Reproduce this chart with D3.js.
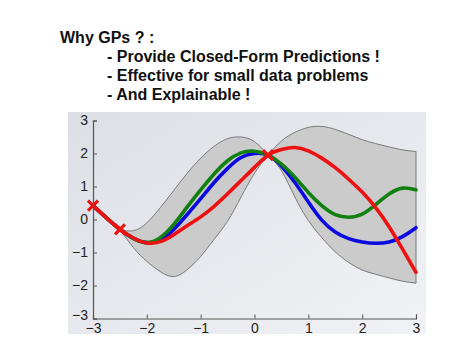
<!DOCTYPE html>
<html>
<head>
<meta charset="utf-8">
<script src="https://cdn.jsdelivr.net/npm/d3@7"></script>
<style>
  html, body { margin: 0; padding: 0; background: #ffffff; }
  svg { display: block; }
</style>
</head>
<body>
<script>
// ---- data ----
const titleLines = ["Why GPs ? :", "- Provide Closed-Form Predictions !", "- Effective for small data problems", "- And Explainable !"];
const xs =    [-3, -2.75, -2.5, -2.25, -2, -1.75, -1.5, -1.25, -1, -0.75, -0.5, -0.25, 0, 0.25, 0.5, 0.75, 1, 1.25, 1.5, 1.75, 2, 2.25, 2.5, 2.75, 3];
const upper = [0.42, 0.05, -0.30, -0.34, -0.10, 0.36, 0.88, 1.40, 1.86, 2.22, 2.45, 2.50, 2.36, 1.95, 2.38, 2.64, 2.79, 2.82, 2.73, 2.58, 2.42, 2.30, 2.20, 2.11, 2.06];
const lower = [0.42, 0.05, -0.30, -0.85, -1.27, -1.58, -1.73, -1.52, -1.12, -0.60, -0.05, 0.68, 1.40, 1.95, 1.48, 0.68, -0.03, -0.55, -0.98, -1.30, -1.53, -1.66, -1.77, -1.87, -1.93];
const blue =  [0.42, 0.05, -0.30, -0.57, -0.70, -0.62, -0.30, 0.15, 0.63, 1.12, 1.55, 1.88, 2.00, 1.95, 1.62, 1.12, 0.53, -0.02, -0.38, -0.58, -0.68, -0.72, -0.68, -0.52, -0.25];
const green = [0.42, 0.05, -0.30, -0.57, -0.70, -0.55, -0.15, 0.38, 0.90, 1.38, 1.78, 2.02, 2.07, 1.95, 1.68, 1.28, 0.82, 0.42, 0.15, 0.07, 0.16, 0.45, 0.77, 0.95, 0.90];
const red =   [0.42, 0.05, -0.30, -0.56, -0.71, -0.67, -0.46, -0.19, 0.08, 0.40, 0.78, 1.18, 1.58, 1.95, 2.12, 2.18, 2.08, 1.86, 1.57, 1.22, 0.83, 0.36, -0.22, -0.90, -1.60];
const obsX = [-3, -2.5, 0.25];
const obsY = [0.42, -0.30, 1.95];
const ticks = [-3, -2, -1, 0, 1, 2, 3];

// ---- layout ----
const W = 474, H = 355;
const svg = d3.select("body").append("svg").attr("width", W).attr("height", H);

const font = "'Liberation Sans', Arial, Helvetica, sans-serif";
const titleX = [60, 107, 107, 107];
const titleY = [42.5, 61.5, 80.5, 99.5];
svg.selectAll("text.title").data(titleLines).enter().append("text")
  .attr("class", "title")
  .attr("x", (d, i) => titleX[i]).attr("y", (d, i) => titleY[i])
  .attr("font-family", font).attr("font-weight", "bold").attr("font-size", 16)
  .attr("fill", "#111").text(d => d);

// panel background
const defs = svg.append("defs");
const grad = defs.append("linearGradient").attr("id", "bg").attr("x1", "0").attr("y1", "0").attr("x2", "1").attr("y2", "1");
grad.append("stop").attr("offset", "0%").attr("stop-color", "#dcdfe5");
grad.append("stop").attr("offset", "100%").attr("stop-color", "#f1f2f6");
svg.append("rect").attr("x", 68).attr("y", 112).attr("width", 358).attr("height", 222).attr("fill", "url(#bg)");

const x = d3.scaleLinear().domain([-3, 3]).range([93, 416]);
const y = d3.scaleLinear().domain([-3, 3]).range([318.5, 120.5]);

// band drawn in pieces between observations (pinches)
const obsIdx = obsX.map(v => xs.indexOf(v)).concat([xs.length - 1]);
const area = d3.area().x(i => x(xs[i])).y0(i => y(lower[i])).y1(i => y(upper[i])).curve(d3.curveNatural);
for (let k = 0; k < obsIdx.length - 1; k++) {
  const seg = d3.range(obsIdx[k], obsIdx[k + 1] + 1);
  svg.append("path").datum(seg).attr("d", area).attr("fill", "#cbcbcb")
    .attr("stroke", "#6e6e6e").attr("stroke-width", 0.9).attr("stroke-linejoin", "round");
}

const pts = d3.range(xs.length);
function line(arr) { return d3.line().x(i => x(xs[i])).y(i => y(arr[i])).curve(d3.curveNatural)(pts); }
[[blue, "#0a0ae0"], [green, "#118011"], [red, "#ee1111"]].forEach(([arr, c]) => {
  svg.append("path").attr("d", line(arr)).attr("fill", "none").attr("stroke", c).attr("stroke-width", 3.6).attr("stroke-linecap", "round");
});

// observation markers
const ms = 5;
obsX.forEach((v, i) => {
  const cx = x(v), cy = y(obsY[i]);
  svg.append("path").attr("d", `M${cx - ms},${cy - ms}L${cx + ms},${cy + ms}M${cx - ms},${cy + ms}L${cx + ms},${cy - ms}`)
    .attr("stroke", "#ee1111").attr("stroke-width", 3.2).attr("fill", "none");
});

// axes
const axCol = "#555";
const fmt = d => d < 0 ? "\u2212" + Math.abs(d) : d;
const xAxis = svg.append("g").attr("transform", `translate(0,${y(-3)})`)
  .call(d3.axisBottom(x).tickValues(ticks).tickSize(-4).tickPadding(7).tickFormat(fmt));
const yAxis = svg.append("g").attr("transform", `translate(${x(-3)},0)`)
  .call(d3.axisLeft(y).tickValues(ticks).tickSize(-4).tickPadding(5).tickFormat(fmt));
[xAxis, yAxis].forEach(g => {
  g.attr("font-size", 14).attr("font-family", font);
  g.select(".domain").attr("stroke", axCol).attr("stroke-width", 1.2);
  g.selectAll(".tick line").attr("stroke", axCol);
  g.selectAll("text").attr("font-family", font).attr("font-size", 14).attr("fill", "#222");
});
xAxis.selectAll(".tick text").attr("dy", "0.71em").attr("y", 5);
yAxis.selectAll(".tick text").filter(d => d === -3).attr("dy", "0.1em");
</script>
</body>
</html>
